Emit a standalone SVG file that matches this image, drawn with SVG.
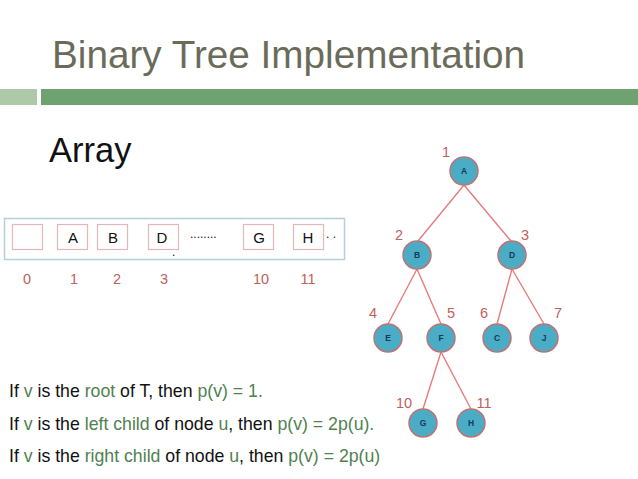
<svg xmlns="http://www.w3.org/2000/svg" width="638" height="479" viewBox="0 0 638 479">
<style>
text{font-family:"Liberation Sans",Arial,sans-serif}
.cell{fill:#fff;stroke:#e3b8b8;stroke-width:1.2}
.ct{font-size:15px;fill:#111;text-anchor:middle}
.idx{font-size:14.5px;fill:#c0605c;text-anchor:middle}
.node circle{fill:#4bacc6;stroke:#c07373;stroke-width:1.5}
.nt{font-size:8.5px;font-weight:bold;fill:#17375e;text-anchor:middle}
.num{font-size:14.5px;fill:#c0605c;text-anchor:middle}
.edge{stroke:#e47c7c;stroke-width:1.4;fill:none}
.line{font-size:17.7px;fill:#111}
.g{fill:#4f8150}
</style>
<rect width="638" height="479" fill="#fff"/>
<text x="52" y="68" font-size="38.7" fill="#6b6b5a">Binary Tree Implementation</text>
<rect x="0" y="89" width="37" height="16" fill="#adc9a8"/>
<rect x="41" y="89" width="597" height="16" fill="#6fa271"/>
<text x="49" y="162" font-size="34.5" fill="#111">Array</text>
<g id="array">
<rect x="4.5" y="218.5" width="340" height="41" fill="#fff" stroke="#b5d0d8" stroke-width="1.5"/>
<rect class="cell" x="12.5" y="224.5" width="30" height="25"/>
<rect class="cell" x="57.5" y="224.5" width="30" height="25"/>
<rect class="cell" x="97.5" y="224.5" width="30" height="25"/>
<rect class="cell" x="148.5" y="224.5" width="30" height="25"/>
<rect class="cell" x="243.5" y="224.5" width="30" height="25"/>
<rect class="cell" x="293.5" y="224.5" width="30" height="25"/>
<text class="ct" x="73" y="243">A</text>
<text class="ct" x="113" y="243">B</text>
<text class="ct" x="162" y="243">D</text>
<text class="ct" x="259" y="243">G</text>
<text class="ct" x="308" y="243">H</text>
<text x="190" y="238" font-size="12" fill="#111">........</text>
<text x="326" y="238" font-size="12" fill="#111">. .</text>
<text x="172" y="256" font-size="12" fill="#111">.</text>
<text class="idx" x="27" y="284">0</text>
<text class="idx" x="74" y="284">1</text>
<text class="idx" x="117" y="284">2</text>
<text class="idx" x="164" y="284">3</text>
<text class="idx" x="261" y="284">10</text>
<text class="idx" x="308" y="284">11</text>
</g>
<g id="connectors">
<line class="edge" x1="464" y1="185" x2="418" y2="241"/>
<line class="edge" x1="464" y1="185" x2="511" y2="241"/>
<line class="edge" x1="417" y1="269" x2="388" y2="324"/>
<line class="edge" x1="417" y1="269" x2="441" y2="324"/>
<line class="edge" x1="512" y1="269" x2="497" y2="324"/>
<line class="edge" x1="512" y1="269" x2="544" y2="324"/>
<line class="edge" x1="441" y1="352" x2="423" y2="409"/>
<line class="edge" x1="441" y1="352" x2="471" y2="409"/>
</g>
<g id="node-A" class="node"><circle cx="464" cy="171" r="14"/><text class="nt" x="464" y="174">A</text><text class="num" x="446" y="157">1</text></g>
<g id="node-B" class="node"><circle cx="417" cy="255" r="14"/><text class="nt" x="417" y="258">B</text><text class="num" x="399" y="240">2</text></g>
<g id="node-D" class="node"><circle cx="512" cy="255" r="14"/><text class="nt" x="512" y="258">D</text><text class="num" x="525" y="240">3</text></g>
<g id="node-E" class="node"><circle cx="388" cy="338" r="14"/><text class="nt" x="388" y="341">E</text><text class="num" x="373" y="318">4</text></g>
<g id="node-F" class="node"><circle cx="441" cy="338" r="14"/><text class="nt" x="441" y="341">F</text><text class="num" x="451" y="318">5</text></g>
<g id="node-C" class="node"><circle cx="497" cy="338" r="14"/><text class="nt" x="497" y="341">C</text><text class="num" x="484" y="318">6</text></g>
<g id="node-J" class="node"><circle cx="544" cy="338" r="14"/><text class="nt" x="544" y="341">J</text><text class="num" x="558" y="318">7</text></g>
<g id="node-G" class="node"><circle cx="423" cy="423" r="14"/><text class="nt" x="423" y="426">G</text><text class="num" x="404" y="408">10</text></g>
<g id="node-H" class="node"><circle cx="471" cy="423" r="14"/><text class="nt" x="471" y="426">H</text><text class="num" x="484" y="408">11</text></g>
<text class="line" x="9" y="397">If <tspan class="g">v</tspan> is the <tspan class="g">root</tspan> of T, then <tspan class="g">p(v) = 1.</tspan></text>
<text class="line" x="9" y="430">If <tspan class="g">v</tspan> is the <tspan class="g">left child</tspan> of node <tspan class="g">u</tspan>, then <tspan class="g">p(v) = 2p(u).</tspan></text>
<text class="line" x="9" y="462">If <tspan class="g">v</tspan> is the <tspan class="g">right child</tspan> of node <tspan class="g">u</tspan>, then <tspan class="g">p(v) = 2p(u)</tspan></text>
</svg>
